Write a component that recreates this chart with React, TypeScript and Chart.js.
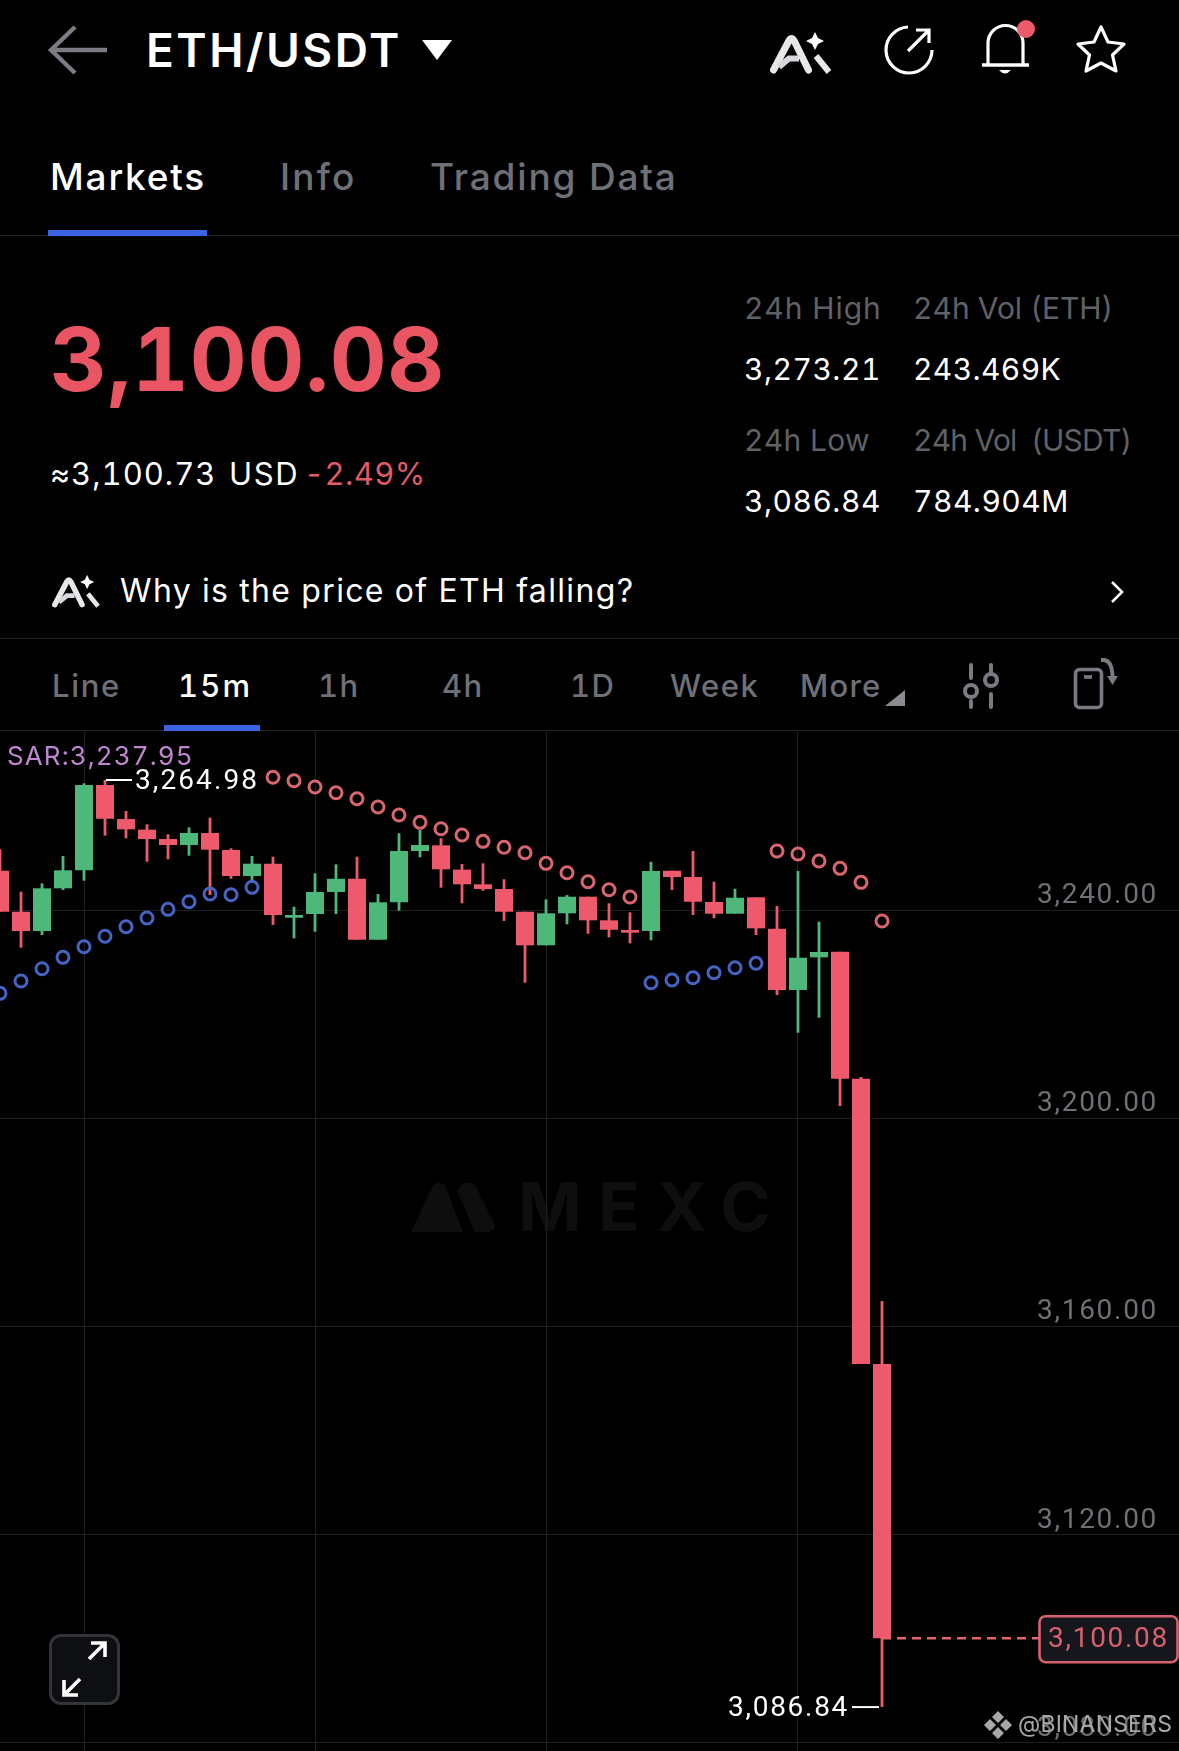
import React, { useEffect, useRef } from "react";
import { Chart, registerables } from "chart.js";

Chart.register(...registerables);

const opens = [3247.55,3239.67,3235.96,3244.17,3247.63,3264.02,3257.48,3255.44,3253.64,3252.49,3254.80,3251.53,3246.53,3248.90,3238.52,3239.23,3243.46,3246.01,3234.29,3241.48,3251.34,3252.43,3247.76,3244.94,3244.04,3239.67,3233.22,3239.37,3242.56,3238.02,3236.16,3235.96,3247.55,3246.34,3241.54,3239.29,3242.44,3236.41,3224.63,3230.91,3231.99,3207.58,3152.76];
const highs = [3251.66,3243.52,3245.13,3250.38,3264.35,3264.98,3259.02,3256.47,3254.55,3255.89,3257.74,3251.86,3250.38,3250.24,3240.63,3247.05,3248.78,3250.24,3243.07,3254.74,3255.37,3253.78,3248.84,3248.97,3245.90,3239.67,3242.06,3242.88,3242.56,3241.29,3239.56,3249.28,3247.55,3251.34,3245.44,3244.09,3242.44,3240.77,3247.49,3237.75,3231.99,3207.91,3164.86];
const lows = [3239.67,3232.76,3235.20,3243.84,3245.63,3254.28,3253.78,3249.28,3249.74,3250.43,3242.88,3246.01,3245.19,3237.12,3234.56,3235.83,3239.23,3234.29,3234.29,3239.87,3250.13,3244.29,3241.29,3243.71,3237.89,3226.03,3233.22,3237.25,3235.45,3234.75,3233.60,3234.18,3243.84,3239.04,3238.41,3239.29,3235.20,3223.67,3216.42,3219.30,3202.34,3152.76,3086.84];
const closes = [3239.67,3235.96,3244.17,3247.63,3264.02,3257.54,3255.51,3253.64,3252.49,3254.80,3251.59,3246.53,3248.90,3239.04,3239.04,3243.46,3246.01,3234.29,3241.48,3251.34,3252.49,3247.82,3244.94,3244.04,3239.67,3233.22,3239.37,3242.56,3238.02,3236.21,3235.64,3247.49,3246.34,3241.59,3239.29,3242.36,3236.48,3224.63,3230.83,3231.93,3207.58,3152.76,3100.08];
const sarValues = [3223.99,3226.36,3228.72,3230.91,3232.95,3234.95,3236.79,3238.46,3240.13,3241.59,3243.07,3242.94,3244.36,3265.50,3264.85,3263.64,3262.54,3261.39,3259.79,3258.26,3256.85,3255.62,3254.41,3253.20,3252.05,3251.01,3248.97,3247.17,3245.44,3243.90,3242.50,3226.03,3226.55,3226.99,3227.95,3228.91,3229.76,3251.34,3250.76,3249.42,3248.01,3245.32,3237.89];
const sarRising = [1,1,1,1,1,1,1,1,1,1,1,1,1,0,0,0,0,0,0,0,0,0,0,0,0,0,0,0,0,0,0,1,1,1,1,1,1,0,0,0,0,0,0];
const priceTicks = [3240, 3200, 3160, 3120, 3080];
const priceTickLabels = ["3,240.00", "3,200.00", "3,160.00", "3,120.00", "3,080.00"];
const timeGrid = [4, 15, 26, 38];
const lastPrice = 3100.08;
const lastPriceLabel = "3,100.08";
const highPoint = { index: 5, value: 3264.98, label: "3,264.98" };
const lowPoint = { index: 42, value: 3086.84, label: "3,086.84" };
const lastLineEnd = 49.5;

const RED = "#ee5a6b";
const GREEN = "#4eb77a";
const SAR_RED = "#d9666f";
const SAR_BLUE = "#4563c4";
const FONT = "Inter, 'Noto Sans', sans-serif";
const NUM_FONT = "Roboto, Inter, sans-serif";

const candleColors = opens.map((o, i) => (closes[i] > o ? GREEN : RED));

const annotations = {
  id: "annotations",
  beforeDraw(chart: any) {
    chart.ctx.letterSpacing = "1.7px";
  },
  afterDatasetsDraw(chart: any) {
    const { ctx, scales } = chart;
    const x = scales.x;
    const y = scales.y;
    ctx.save();
    ctx.font = `400 28px ${NUM_FONT}`;
    ctx.letterSpacing = "2.1px";
    ctx.textBaseline = "middle";
    ctx.strokeStyle = "#ffffff";
    ctx.fillStyle = "#ffffff";
    ctx.lineWidth = 2;
    const hy = y.getPixelForValue(highPoint.value);
    const hx = x.getPixelForValue(highPoint.index);
    ctx.beginPath();
    ctx.moveTo(hx + 1, hy);
    ctx.lineTo(hx + 27, hy);
    ctx.stroke();
    ctx.textAlign = "left";
    ctx.fillText(highPoint.label, hx + 30, hy + 2);
    ctx.letterSpacing = "1.7px";
    const ly = y.getPixelForValue(lowPoint.value);
    const lx = x.getPixelForValue(lowPoint.index);
    ctx.beginPath();
    ctx.moveTo(lx - 30, ly);
    ctx.lineTo(lx - 3, ly);
    ctx.stroke();
    ctx.textAlign = "right";
    ctx.fillText(lowPoint.label, lx - 33, ly + 2);
    const py = y.getPixelForValue(lastPrice);
    const bx = x.getPixelForValue(lastLineEnd);
    ctx.beginPath();
    ctx.roundRect(bx, py - 22, 138, 46, 6);
    ctx.fillStyle = "#16171c";
    ctx.fill();
    ctx.strokeStyle = "#d8616d";
    ctx.lineWidth = 2.6;
    ctx.stroke();
    ctx.fillStyle = "#d8616d";
    ctx.textAlign = "center";
    ctx.fillText(lastPriceLabel, bx + 69, py + 2);
    ctx.restore();
  },
};

const flattenAxis = (axis: any) => {
  axis.paddingLeft = 0;
  axis.paddingRight = 0;
  axis.paddingTop = 0;
  axis.paddingBottom = 0;
  if (axis.axis === "x") axis.height = 0;
  else axis.width = 0;
};

function CandleChart() {
  const ref = useRef<HTMLCanvasElement | null>(null);
  useEffect(() => {
    const idx = opens.map((_, i) => i);
    const chart = new Chart(ref.current as HTMLCanvasElement, {
      type: "bar",
      data: {
        datasets: [
          {
            type: "line",
            order: 0,
            data: [
              { x: lowPoint.index, y: lastPrice },
              { x: lastLineEnd, y: lastPrice },
            ],
            borderColor: "#e8626f",
            borderWidth: 2.6,
            borderDash: [9, 6],
            pointRadius: 0,
          },
          {
            type: "line",
            order: 1,
            showLine: false,
            data: idx.map((i) => ({ x: i, y: sarValues[i] })),
            pointStyle: "circle",
            pointRadius: 6,
            pointBorderWidth: 3,
            pointBackgroundColor: "rgba(0,0,0,0)",
            pointBorderColor: idx.map((i) => (sarRising[i] ? SAR_BLUE : SAR_RED)),
          },
          {
            order: 2,
            grouped: false,
            barThickness: 18,
            inflateAmount: 0,
            data: idx.map((i) => ({ x: i, y: [opens[i], closes[i]] })),
            backgroundColor: candleColors,
          },
          {
            order: 3,
            grouped: false,
            barThickness: 2.8,
            inflateAmount: 0,
            data: idx.map((i) => ({ x: i, y: [lows[i], highs[i]] })),
            backgroundColor: candleColors,
          },
        ] as any,
      },
      options: {
        animation: false,
        responsive: false,
        devicePixelRatio: 1,
        layout: { padding: 0, autoPadding: false },
        plugins: { legend: { display: false }, tooltip: { enabled: false } },
        scales: {
          x: {
            type: "linear",
            min: 0,
            max: 1179 / 21,
            offset: false,
            afterBuildTicks: (axis: any) => {
              axis.ticks = timeGrid.map((value) => ({ value }));
            },
            afterFit: flattenAxis,
            ticks: { display: false },
            grid: { offset: false, color: "#1d1e22", lineWidth: 1, drawTicks: false },
            border: { display: false },
          },
          y: {
            type: "linear",
            position: "right",
            min: 3078.4,
            max: 3274.4,
            afterBuildTicks: (axis: any) => {
              axis.ticks = priceTicks.map((value) => ({ value }));
            },
            afterFit: flattenAxis,
            ticks: {
              mirror: true,
              padding: -21,
              autoSkip: false,
              color: "#6f7076",
              font: { family: NUM_FONT, size: 28, lineHeight: 1.0 },
              callback: (value: any) => {
                const k = priceTicks.indexOf(Number(value));
                return [priceTickLabels[k], " "];
              },
            },
            grid: { color: "#1d1e22", lineWidth: 1, drawTicks: false },
            border: { display: false },
          },
        },
      } as any,
      plugins: [annotations],
    });
    return () => chart.destroy();
  }, []);
  return (
    <canvas
      ref={ref}
      width={1179}
      height={1020}
      style={{ position: "absolute", left: 0, top: 731, width: 1179, height: 1020 }}
    />
  );
}

function T(props: { x: number; y: number; s: number; c: string; w?: number; ls?: number; children: any }) {
  const { x, y, s, c, w = 400, ls = 0, children } = props;
  return (
    <div
      style={{
        position: "absolute",
        left: x,
        top: y,
        transform: "translateY(-50%)",
        fontFamily: FONT,
        fontSize: s,
        color: c,
        fontWeight: w,
        letterSpacing: ls,
        lineHeight: 1.2,
        whiteSpace: "pre",
        fontVariantNumeric: "tabular-nums",
      }}
    >
      {children}
    </div>
  );
}

function Svg(props: { x: number; y: number; w: number; h: number; children?: any; vb?: string }) {
  const { x, y, w, h, children, vb } = props;
  return (
    <svg
      style={{ position: "absolute", left: x, top: y, overflow: "visible" }}
      width={w}
      height={h}
      viewBox={vb || `0 0 ${w} ${h}`}
      fill="none"
    >
      {children}
    </svg>
  );
}

function AiIcon(props: { x: number; y: number; w: number; h: number }) {
  return (
    <Svg {...props} vb="0 0 64 41">
      <path d="M3.5 38 L19 8.5 Q21.5 4.5 24 8.5 L38.5 38" stroke="#e8e8ea" strokeWidth="7" strokeLinecap="round" />
      <path d="M9 35 L19 26.5 L29 26.5" stroke="#d8d8dc" strokeWidth="6" />
      <path d="M45 0 L48 6 L54 9 L48 12 L45 18 L42 12 L36 9 L42 6 Z" fill="#fff" />
      <path d="M46 24 L59 40" stroke="#e8e8ea" strokeWidth="6" />
    </Svg>
  );
}

const GRAY = "#6e7078";
const LABEL = "#5f6167";
const DIV = "#1e2024";
const ICON_GRAY = "#7a7b82";

export default function App() {
  useEffect(() => {
    document.body.style.margin = "0";
    document.body.style.background = "#000";
  }, []);
  return (
    <div style={{ position: "relative", width: 1179, height: 1751, background: "#000", overflow: "hidden" }}>
      {/* header */}
      <Svg x={48} y={25} w={60} h={50}>
        <path d="M27 2 L3 25 L27 48 M3 25 L59 25" stroke="#7b7c84" strokeWidth="4.4" />
      </Svg>
      <T x={146} y={51} s={46} c="#fff" w={600} ls={2.5}>ETH/USDT</T>
      <Svg x={422} y={40} w={30} h={20}>
        <path d="M0 0 L30 0 L15 20 Z" fill="#fff" />
      </Svg>
      <AiIcon x={770} y={32} w={64} h={41} />
      <Svg x={884} y={25} w={50} h={50}>
        <path d="M24 2 A23 23 0 1 0 48 25" stroke="#fff" strokeWidth="3.2" />
        <path d="M24 26 L45 5 M32 5 L45 5 L45 18" stroke="#fff" strokeWidth="3.2" />
      </Svg>
      <Svg x={982} y={25} w={48} h={50}>
        <path d="M6 40 L6 18 A17.5 17.5 0 0 1 41 18 L41 40" stroke="#fff" strokeWidth="3.2" />
        <path d="M0 40 L47 40" stroke="#fff" strokeWidth="3.4" />
        <path d="M17 45 Q23 52 29 45 Z" fill="#fff" />
      </Svg>
      <Svg x={1017} y={20} w={18} h={18}>
        <circle cx="9" cy="9" r="9" fill="#ee5a6b" />
      </Svg>
      <Svg x={1075} y={24} w={52} h={48}>
        <path d="M26 3 L33 18 L49 20 L37.5 31 L41 47 L26 39 L11 47 L14.5 31 L3 20 L19 18 Z" stroke="#fff" strokeWidth="3.2" strokeLinejoin="round" />
      </Svg>

      {/* tabs */}
      <T x={50} y={177} s={37} c="#fff" w={500} ls={1.8}>Markets</T>
      <T x={280} y={177} s={37} c={GRAY} w={500} ls={2.2}>Info</T>
      <T x={430} y={177} s={37} c={GRAY} w={500} ls={1.8}>Trading Data</T>
      <div style={{ position: "absolute", left: 0, top: 235, width: 1179, height: 1, background: DIV }} />
      <div style={{ position: "absolute", left: 48, top: 230, width: 159, height: 6, background: "#3b63e0" }} />

      {/* price block */}
      <T x={50} y={360} s={88} c="#ea5564" w={700} ls={0.8}>3,100.08</T>
      <T x={50} y={474} s={31} c="#fff" ls={1}>≈3,100.73</T>
      <T x={229} y={474} s={31} c="#fff" ls={1.6}>USD</T>
      <T x={304} y={474} s={31} c="#e05a68" ls={0.4}>-2.49%</T>
      <T x={744} y={308} s={30} c={LABEL} ls={0.9}>24h High</T>
      <T x={913} y={308} s={30} c={LABEL}>24h Vol (ETH)</T>
      <T x={744} y={369} s={30} c="#fff" ls={0.5}>3,273.21</T>
      <T x={913} y={369} s={30} c="#fff" ls={0.4}>243.469K</T>
      <T x={744} y={440} s={30} c={LABEL} ls={0.3}>24h Low</T>
      <T x={913} y={440} s={30} c={LABEL} ls={-0.8}>24h Vol  (USDT)</T>
      <T x={744} y={501} s={30} c="#fff" ls={0.5}>3,086.84</T>
      <T x={913} y={501} s={30} c="#fff" ls={0.5}>784.904M</T>

      {/* AI row */}
      <AiIcon x={52} y={575} w={50} h={32} />
      <T x={120} y={591} s={32} c="#fff" ls={1.35}>Why is the price of ETH falling?</T>
      <Svg x={1110} y={580} w={14} h={24}>
        <path d="M2 2 L12 12 L2 22" stroke="#fff" strokeWidth="2.6" />
      </Svg>
      <div style={{ position: "absolute", left: 0, top: 638, width: 1179, height: 1, background: DIV }} />

      {/* intervals */}
      <T x={52} y={686} s={31} c={GRAY} w={500} ls={1.7}>Line</T>
      <T x={178} y={686} s={31} c="#fff" w={500} ls={2.2}>15m</T>
      <T x={318} y={686} s={31} c={GRAY} w={500} ls={1.5}>1h</T>
      <T x={442} y={686} s={31} c={GRAY} w={500} ls={1.5}>4h</T>
      <T x={570} y={686} s={31} c={GRAY} w={500} ls={1.5}>1D</T>
      <T x={670} y={686} s={31} c={GRAY} w={500} ls={1.5}>Week</T>
      <T x={800} y={686} s={31} c={GRAY} w={500} ls={1.2}>More</T>
      <Svg x={885} y={690} w={20} h={16}>
        <path d="M20 0 L20 16 L0 16 Z" fill="#8a8b92" />
      </Svg>
      <Svg x={963} y={660} w={36} h={48}>
        <path d="M8 5 L8 18 M8 41 L8 47 M28 5 L28 12 M28 34 L28 47" stroke={ICON_GRAY} strokeWidth="4" strokeLinecap="round" />
        <circle cx="8" cy="31" r="6" stroke={ICON_GRAY} strokeWidth="4" />
        <circle cx="28" cy="20" r="6" stroke={ICON_GRAY} strokeWidth="4" />
      </Svg>
      <Svg x={1073} y={658} w={46} h={52}>
        <rect x="2.5" y="11.5" width="26" height="38" rx="4" stroke={ICON_GRAY} strokeWidth="3.6" />
        <path d="M11 19 L19 19" stroke={ICON_GRAY} strokeWidth="3.6" />
        <path d="M28 2 L31 2 Q39 3 39.5 18" stroke={ICON_GRAY} strokeWidth="3.8" />
        <path d="M34 18 L45 18 L39.5 27 Z" fill={ICON_GRAY} />
      </Svg>
      <div style={{ position: "absolute", left: 0, top: 730, width: 1179, height: 1, background: DIV }} />
      <div style={{ position: "absolute", left: 164, top: 725, width: 96, height: 6, background: "#3b63e0" }} />

      {/* faint watermark under the chart */}
      <Svg x={411} y={1181} w={84} h={51}>
        <path d="M0 51 L22 4 Q28 0 34 4 L52 51 Z M50 4 Q58 -1 64 4 L84 44 Q84 51 76 51 L64 51 L46 10 Z" fill="#0e0e0f" />
      </Svg>
      <T x={518} y={1207} s={68} c="#0e0e0f" w={700} ls={17}>MEXC</T>

      <CandleChart />

      <T x={7} y={756} s={26} c="#c084d0" ls={1.1}>SAR:3,237.95</T>

      {/* expand button */}
      <div
        style={{
          position: "absolute",
          left: 49,
          top: 1634,
          width: 71,
          height: 71,
          boxSizing: "border-box",
          background: "#0e0f12",
          border: "3px solid #33353a",
          borderRadius: 12,
        }}
      />
      <Svg x={49} y={1634} w={71} h={71}>
        <path d="M40 25 L55 10 M42 9 L56 9 L56 23" stroke="#fff" strokeWidth="3.6" />
        <path d="M31 45 L16 60 M15 46 L15 61 L29 61" stroke="#fff" strokeWidth="3.6" />
      </Svg>

      {/* source watermark */}
      <Svg x={984} y={1711} w={28} h={28}>
        <path d="M14 0 L20 6 L14 12 L8 6 Z M6 8 L12 14 L6 20 L0 14 Z M22 8 L28 14 L22 20 L16 14 Z M14 16 L20 22 L14 28 L8 22 Z" fill="#a8a8a8" />
      </Svg>
      <T x={1018} y={1725} s={23} c="#a8a8a8" ls={0.2}>@BINANSERS</T>
    </div>
  );
}
